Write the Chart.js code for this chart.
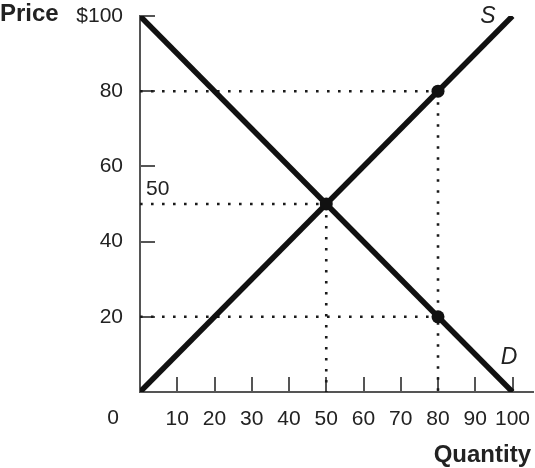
<!DOCTYPE html>
<html>
<head>
<meta charset="utf-8">
<script src="https://cdn.jsdelivr.net/npm/chart.js@4/dist/chart.umd.min.js"></script>
<style>
  html, body { margin: 0; padding: 0; background: #ffffff; }
  #c { display: block; }
</style>
</head>
<body>
<canvas id="c" width="535" height="468"></canvas>
<script>
// ---- Data ----
const quantities = [0, 100];
const supplyPrices = [0, 100];
const demandPrices = [100, 0];
const markedQuantities = [50, 80, 80];
const markedPrices = [50, 80, 20];
const xTickValues = [10, 20, 30, 40, 50, 60, 70, 80, 90, 100];
const yTickValues = [20, 40, 60, 80, 100];
const yTickLabels = ['20', '40', '60', '80', '$100'];
const xMax = 105.5;
const yMax = 100;

// ---- Build datasets ----
const pts = (xs, ys) => xs.map((x, i) => ({ x: x, y: ys[i] }));
const guideStyle = {
  showLine: true, pointRadius: 0, borderColor: '#1a1a1a', borderWidth: 2.6,
  borderDash: [2.6, 8.4], fill: false, order: 3
};
const guides = [];
markedQuantities.forEach((q, i) => {
  const p = markedPrices[i];
  guides.push(Object.assign({ data: [{ x: 0, y: p }, { x: q, y: p }] }, guideStyle));
});
const verticalTops = {};
markedQuantities.forEach((q, i) => {
  verticalTops[q] = Math.max(verticalTops[q] || 0, markedPrices[i]);
});
Object.keys(verticalTops).forEach(q => {
  guides.push(Object.assign({ data: [{ x: +q, y: verticalTops[q] }, { x: +q, y: 0 }] }, guideStyle));
});

const datasets = guides.concat([
  { label: 'S', data: pts(quantities, supplyPrices), showLine: true, pointRadius: 0,
    borderColor: '#111', borderWidth: 5.5, order: 2 },
  { label: 'D', data: pts(quantities, demandPrices), showLine: true, pointRadius: 0,
    borderColor: '#111', borderWidth: 5.5, order: 2 },
  { label: 'points', data: pts(markedQuantities, markedPrices), showLine: false,
    pointRadius: 6.5, pointBackgroundColor: '#111', pointBorderWidth: 0, order: 1 }
]);

// ---- Plugin: inner tick marks & free text ----
const decor = {
  id: 'decor',
  beforeDatasetsDraw(chart) {
    const ctx = chart.ctx, xs = chart.scales.x, ys = chart.scales.y;
    const x0 = xs.getPixelForValue(0), y0 = ys.getPixelForValue(0);
    ctx.save();
    ctx.strokeStyle = '#555';
    ctx.lineWidth = 2;
    ctx.beginPath();
    xTickValues.forEach(v => {
      const px = Math.round(xs.getPixelForValue(v));
      ctx.moveTo(px, y0); ctx.lineTo(px, y0 - 15);
    });
    yTickValues.forEach(v => {
      const py = Math.round(ys.getPixelForValue(v));
      ctx.moveTo(x0, py); ctx.lineTo(x0 + 15, py);
    });
    ctx.stroke();
    ctx.restore();
  },
  afterDraw(chart) {
    const ctx = chart.ctx, xs = chart.scales.x, ys = chart.scales.y;
    ctx.save();
    ctx.fillStyle = '#222';
    ctx.font = 'bold 24px "Liberation Sans", Arial, sans-serif';
    ctx.textBaseline = 'alphabetic';
    ctx.textAlign = 'left';
    ctx.fillText('Price', 0, 21);
    ctx.textAlign = 'right';
    ctx.fillText('Quantity', 531, 462);
    ctx.font = '21px "Liberation Sans", Arial, sans-serif';
    ctx.textAlign = 'center';
    ctx.textBaseline = 'middle';
    ctx.fillText('0', 113, 418);
    ctx.textAlign = 'left';
    ctx.textBaseline = 'alphabetic';
    ctx.fillText('50', 146, ys.getPixelForValue(50) - 9);
    ctx.font = 'italic 23px "Liberation Sans", Arial, sans-serif';
    ctx.textAlign = 'center';
    ctx.fillText('S', 488, 23);
    ctx.fillText('D', 509, 364);
    ctx.restore();
  }
};

new Chart(document.getElementById('c'), {
  type: 'scatter',
  data: { datasets: datasets },
  options: {
    responsive: false,
    animation: false,
    layout: { autoPadding: false, padding: { left: 0, top: 16, right: 2, bottom: 0 } },
    plugins: { legend: { display: false }, tooltip: { enabled: false } },
    scales: {
      x: {
        type: 'linear', min: 0, max: xMax,
        afterFit(s) { s.height = 76; s.paddingLeft = 0; s.paddingRight = 0; },
        afterBuildTicks(s) { s.ticks = xTickValues.map(v => ({ value: v })); },
        grid: { drawOnChartArea: false, drawTicks: false },
        border: { display: true, color: '#555', width: 2 },
        ticks: {
          padding: 15, color: '#222', maxRotation: 0, autoSkip: false,
          font: { family: '"Liberation Sans", Arial, sans-serif', size: 21 },
          callback: v => String(v)
        }
      },
      y: {
        type: 'linear', min: 0, max: yMax,
        afterFit(s) { s.width = 140; s.paddingTop = 0; s.paddingBottom = 0; },
        afterBuildTicks(s) { s.ticks = yTickValues.map(v => ({ value: v })); },
        grid: { drawOnChartArea: false, drawTicks: false },
        border: { display: true, color: '#555', width: 2 },
        ticks: {
          padding: 17, color: '#222', autoSkip: false,
          font: { family: '"Liberation Sans", Arial, sans-serif', size: 21 },
          callback: v => yTickLabels[yTickValues.indexOf(v)]
        }
      }
    }
  },
  plugins: [decor]
});
</script>
</body>
</html>
